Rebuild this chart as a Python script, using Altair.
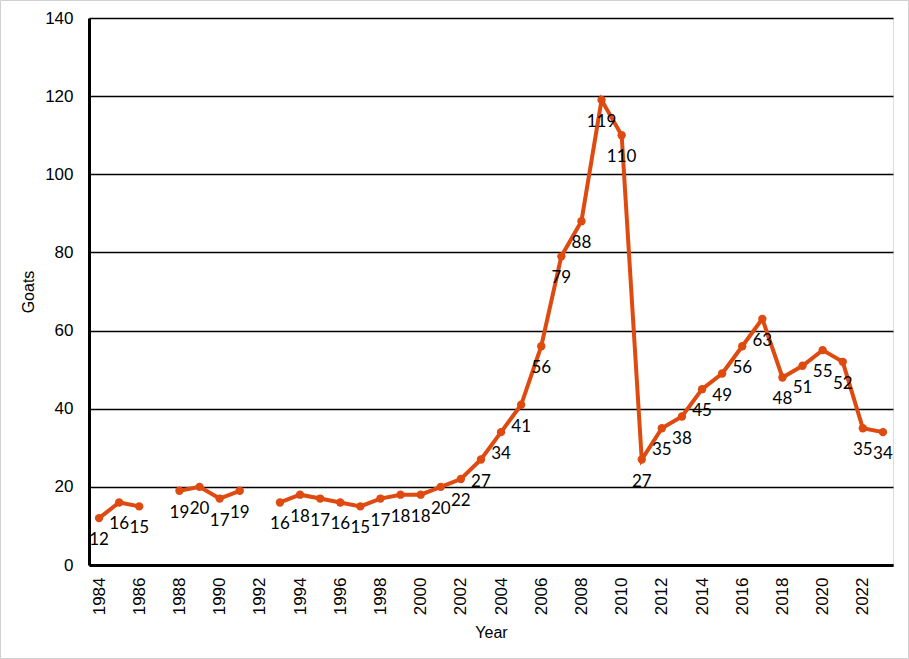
import altair as alt
import pandas as pd

years = list(range(1984, 2024))
goats = [12, 16, 15, None, 19, 20, 17, 19, None, 16, 18, 17, 16, 15, 17, 18, 18, 20, 22, 27,
         34, 41, 56, 79, 88, 119, 110, 27, 35, 38, 45, 49, 56, 63, 48, 51, 55, 52, 35, 34]

rows = []
seg = 0
prev_none = True
for y, v in zip(years, goats):
    if v is None:
        prev_none = True
        continue
    if prev_none:
        seg += 1
        prev_none = False
    rows.append({"Year": y, "Goats": v, "seg": seg})
df = pd.DataFrame(rows)

FONT = "Lato"
COLOR = "#DE4A0F"

x = alt.X("Year:Q", scale=alt.Scale(domain=[1983.5, 2023.5], nice=False, zero=False),
          axis=alt.Axis(values=list(range(1984, 2024, 2)), format="d", labelAngle=-90,
                        labelAlign="right", labelBaseline="middle", labelPadding=12,
                        ticks=False, grid=False, domainColor="black", domainWidth=3,
                        title="Year", titleFontWeight="normal", titleFontSize=16,
                        titlePadding=10, labelFontSize=17, labelColor="black",
                        titleColor="black", labelFlush=False))
y = alt.Y("Goats:Q", scale=alt.Scale(domain=[0, 140], nice=False),
          axis=alt.Axis(values=list(range(0, 141, 20)), ticks=False, grid=True,
                        gridColor="black", gridWidth=1.6, gridOpacity=1,
                        domainColor="black", domainWidth=3, labelPadding=16,
                        title="Goats", titleFontWeight="normal", titleFontSize=16,
                        titlePadding=8, labelFontSize=17, labelColor="black",
                        titleColor="black"))

base = alt.Chart(df)
line = base.mark_line(color=COLOR, strokeWidth=4).encode(x=x, y=y, detail="seg:N")
pts = base.mark_point(color=COLOR, filled=True, opacity=1, size=70).encode(x=x, y=y)
labels = base.mark_text(dy=22, fontSize=17, font=FONT, color="black").encode(
    x=x, y=y, text="Goats:Q")
border = alt.Chart(pd.DataFrame({"a": [0]})).mark_rect(
    fill=None, stroke="#D0D0D0", strokeWidth=1, clip=False).encode(
    x=alt.value(-88.5), x2=alt.value(819.5), y=alt.value(-17.5), y2=alt.value(640.5))

chart = (border + line + pts + labels).properties(
    width=804, height=547,
    autosize=alt.AutoSizeParams(type="none"),
    padding={"left": 89, "top": 18, "right": 16, "bottom": 94},
).configure_view(stroke=None).configure_axis(labelFont=FONT, titleFont=FONT).configure(
    background="white")

chart.save("out.html", embed_options={"renderer": "svg", "actions": False})
